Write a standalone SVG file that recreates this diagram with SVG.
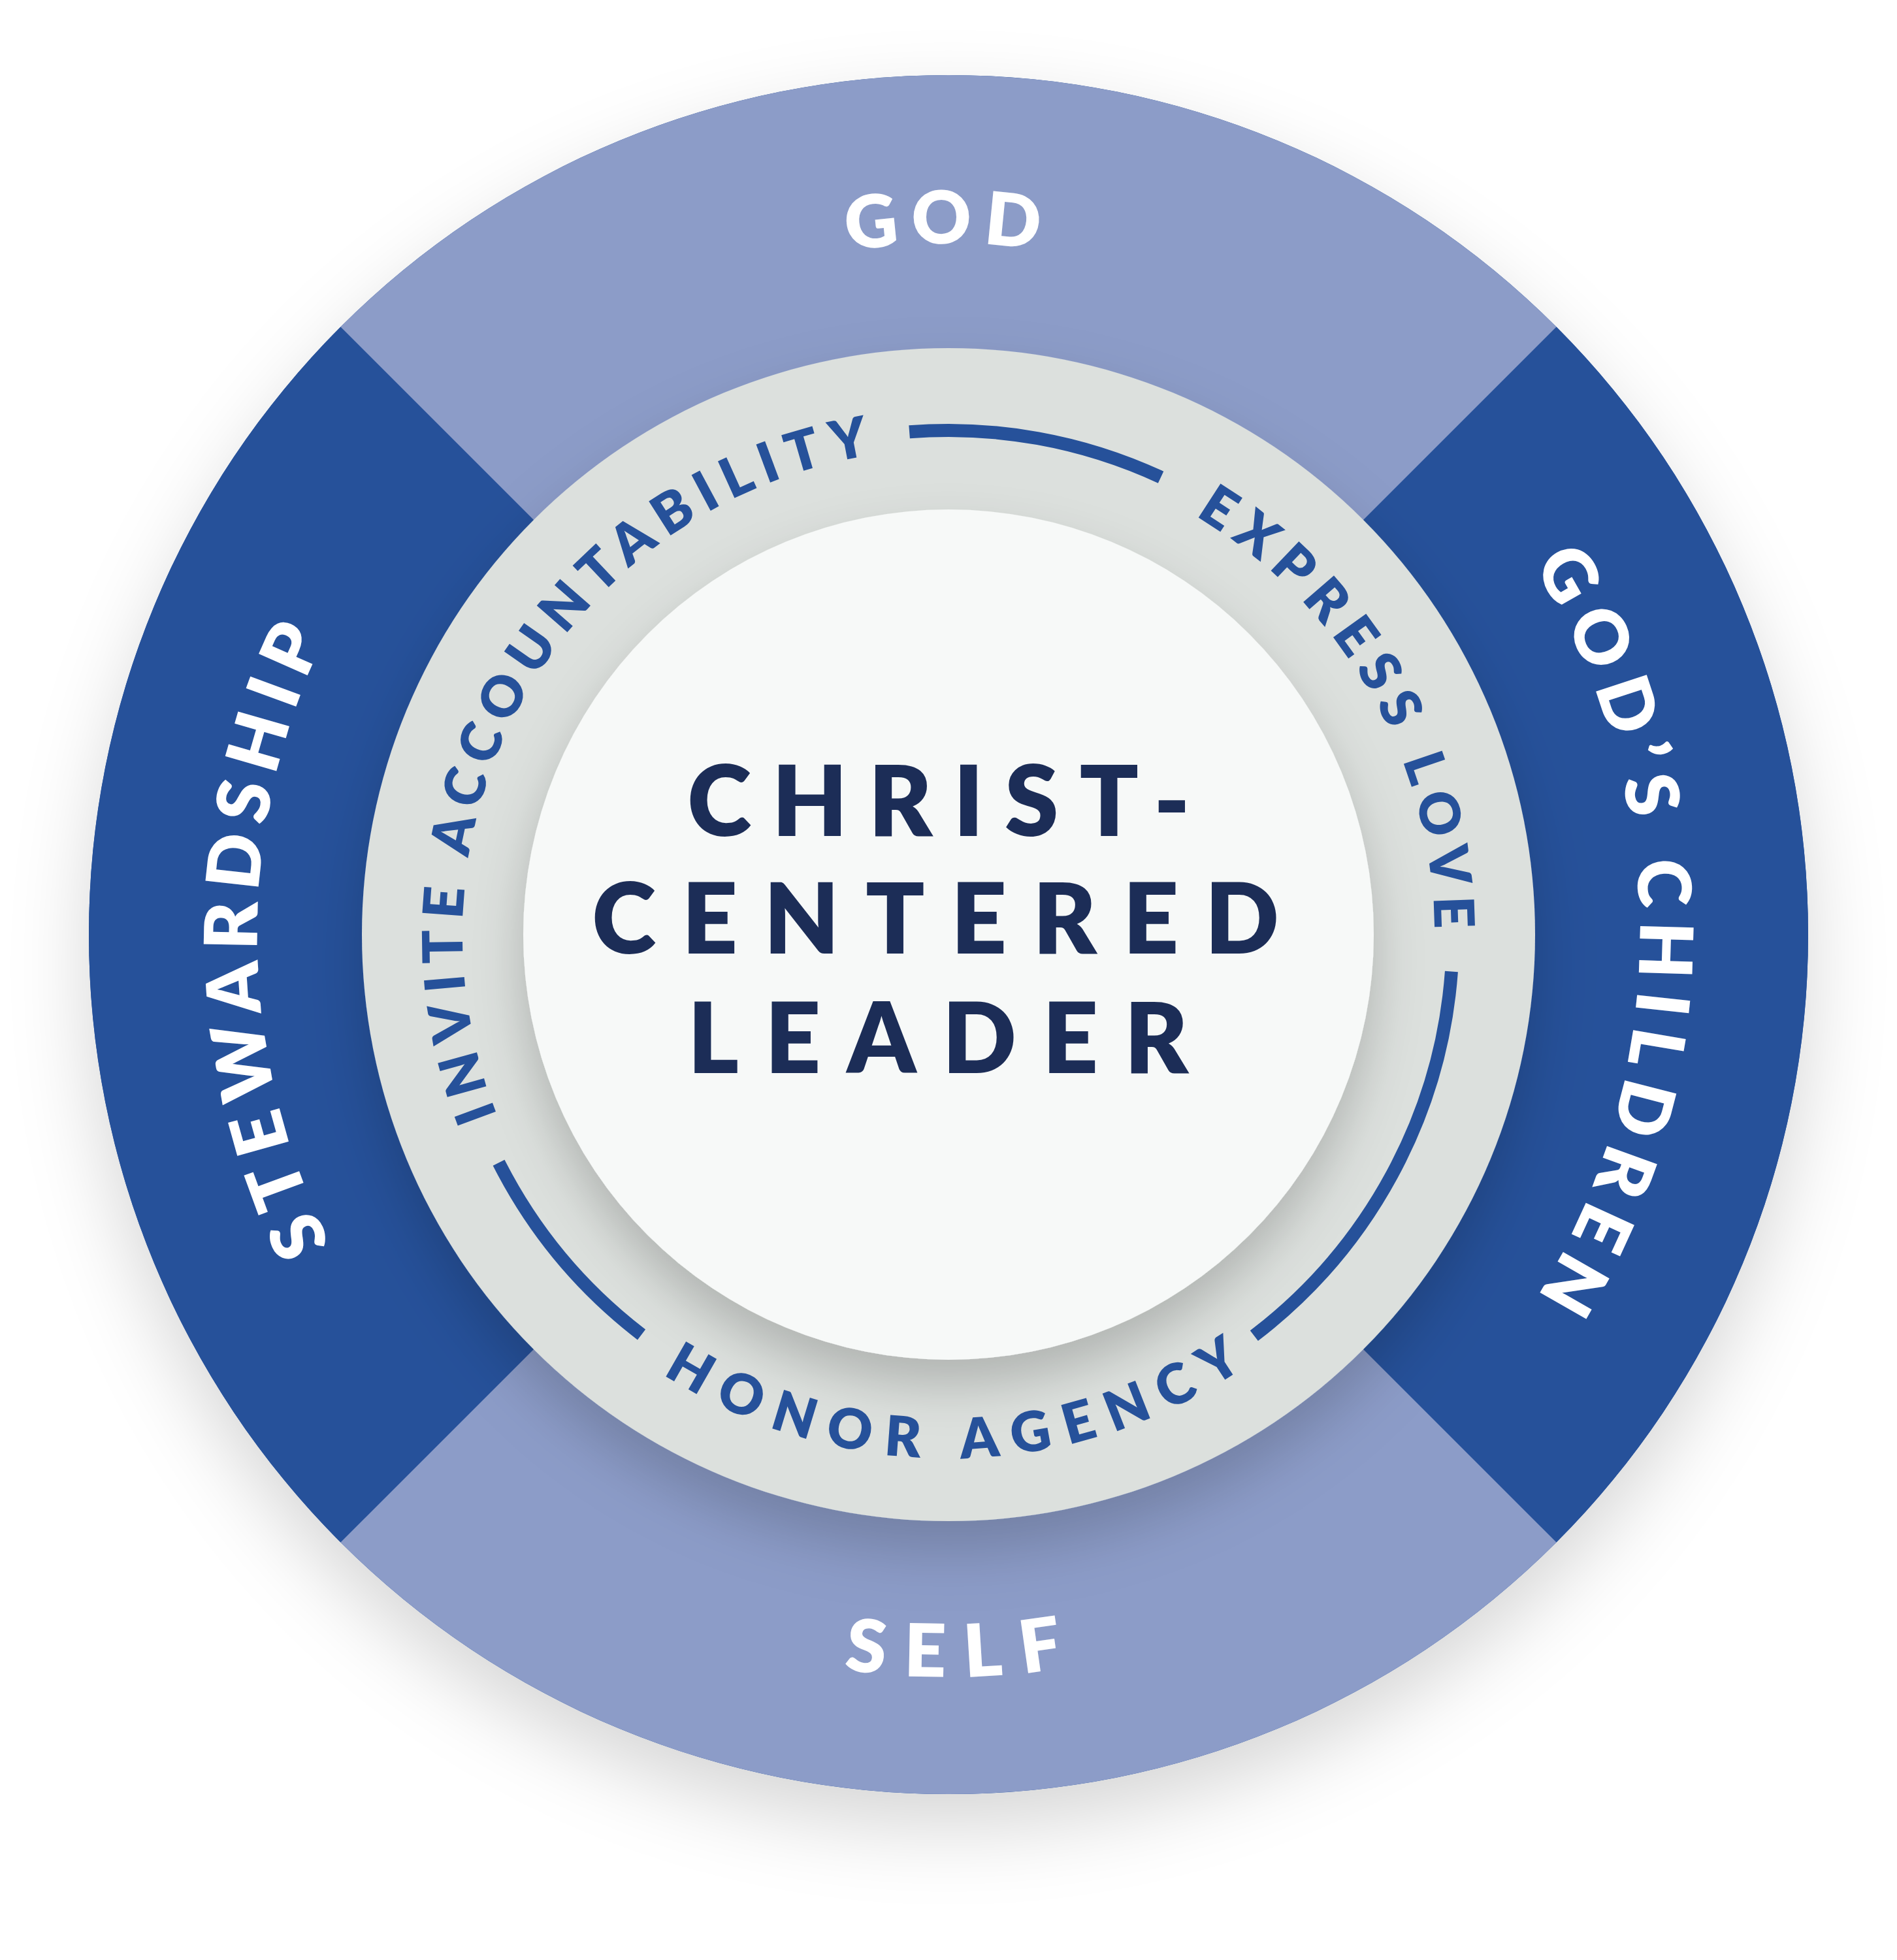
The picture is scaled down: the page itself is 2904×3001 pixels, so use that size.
<svg xmlns="http://www.w3.org/2000/svg" xmlns:xlink="http://www.w3.org/1999/xlink" width="2904" height="3001" viewBox="0 0 2904 3001">
<style>
.lbl{font-family:"Lato","Liberation Sans",sans-serif;font-weight:800;fill:#ffffff;font-size:112px;letter-spacing:20px}
.rt{font-family:"Lato","Liberation Sans",sans-serif;font-weight:800;fill:#26519a;font-size:85px;letter-spacing:15px}
.ct{font-family:"Lato","Liberation Sans",sans-serif;font-weight:800;fill:#1c2d57;font-size:149px;letter-spacing:40px;text-anchor:middle}
.arc{fill:none;stroke:#26519a;stroke-width:20}
.light{fill:#8c9cc8}
.dark{fill:#26519a}
</style>
<defs>
<filter id="shOuter" x="-20%" y="-20%" width="140%" height="150%">
<feDropShadow dx="0" dy="50" stdDeviation="60" flood-color="#000" flood-opacity="0.16"/>
</filter>
<filter id="shRing" x="-20%" y="-20%" width="140%" height="150%">
<feDropShadow dx="0" dy="45" stdDeviation="45" flood-color="#000" flood-opacity="0.18"/>
</filter>
<filter id="shInner" x="-20%" y="-20%" width="140%" height="150%">
<feDropShadow dx="0" dy="38" stdDeviation="38" flood-color="#000" flood-opacity="0.2"/>
</filter>
<path id="pTop" d="M 394 1431 A 1058 1058 0 0 1 2510 1431"/>
<path id="pRight" d="M 1452 373 A 1058 1058 0 0 1 1452 2489"/>
<path id="pLeft" d="M 1452 2489 A 1058 1058 0 0 1 1452 373"/>
<path id="pBottom" d="M 315 1431 A 1137 1137 0 0 0 2589 1431"/>
<path id="pInvite" d="M 1091.30 2081.72 A 744 744 0 0 1 1812.70 780.28"/>
<path id="pExpress" d="M 1075.51 789.29 A 744 744 0 0 1 1828.49 2072.71"/>
<path id="pHonor" d="M 648.04 1438.72 A 804 804 0 0 0 2255.96 1423.28"/>
</defs>
<rect width="2904" height="3001" fill="#ffffff"/>
<circle cx="1452" cy="1431" r="1316" class="dark" filter="url(#shOuter)"/>
<g id="stewardship">
<path class="dark" d="M 1452 1431 L 521.45 2361.55 A 1316 1316 0 0 1 521.45 500.45 Z"/>
<text class="lbl" style="letter-spacing:16px"><textPath xlink:href="#pLeft" href="#pLeft" startOffset="1659" text-anchor="middle">STEWARDSHIP</textPath></text>
</g>
<g id="gods-children">
<path class="dark" d="M 1452 1431 L 2382.55 500.45 A 1316 1316 0 0 1 2382.55 2361.55 Z"/>
<text class="lbl" style="letter-spacing:19px"><textPath xlink:href="#pRight" href="#pRight" startOffset="1664" text-anchor="middle">GOD’S CHILDREN</textPath></text>
</g>
<g id="god">
<path class="light" d="M 1452 1431 L 521.45 500.45 A 1316 1316 0 0 1 2382.55 500.45 Z"/>
<text class="lbl" style="letter-spacing:18px"><textPath xlink:href="#pTop" href="#pTop" startOffset="1662" text-anchor="middle">GOD</textPath></text>
</g>
<g id="self">
<path class="light" d="M 1452 1431 L 2382.55 2361.55 A 1316 1316 0 0 1 521.45 2361.55 Z"/>
<text class="lbl" style="letter-spacing:30px"><textPath xlink:href="#pBottom" href="#pBottom" startOffset="1809" text-anchor="middle">SELF</textPath></text>
</g>
<g id="ring">
<circle cx="1452" cy="1431" r="898" fill="#dce0dd" filter="url(#shRing)"/>
<circle cx="1452" cy="1431" r="651" fill="#f7f9f8" filter="url(#shInner)"/>
<text class="rt"><textPath xlink:href="#pInvite" href="#pInvite" startOffset="1182" text-anchor="middle">INVITE ACCOUNTABILITY</textPath></text>
<text class="rt"><textPath xlink:href="#pExpress" href="#pExpress" startOffset="1180" text-anchor="middle">EXPRESS LOVE</textPath></text>
<text class="rt" style="letter-spacing:23px"><textPath xlink:href="#pHonor" href="#pHonor" startOffset="1274" text-anchor="middle">HONOR AGENCY</textPath></text>
</g>
<g id="connectors">
<path class="arc" d="M 1392.10 661.32 A 772 772 0 0 1 1777.04 730.76"/>
<path class="arc" d="M 2221.93 1487.54 A 772 772 0 0 1 1919.82 2045.10"/>
<path class="arc" d="M 982.04 2043.47 A 772 772 0 0 1 763.53 1780.28"/>
</g>
<g id="center">
<text class="ct" x="1453" y="1280" style="letter-spacing:32px">CHRIST-</text>
<text class="ct" x="1452" y="1460">CENTERED</text>
<text class="ct" x="1456" y="1643">LEADER</text>
</g>
</svg>
